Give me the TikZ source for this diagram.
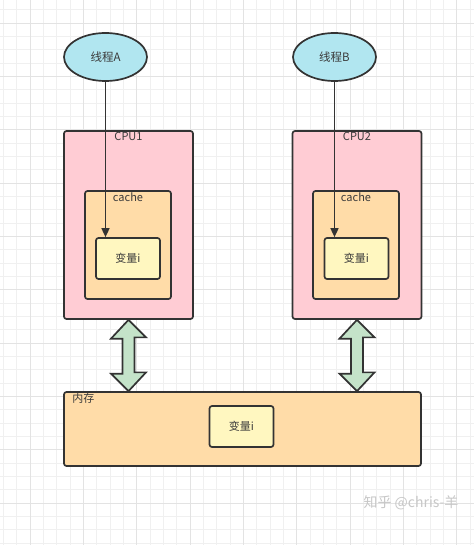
\documentclass[tikz,border=0pt]{standalone}
\usepackage{fontspec}
\setmainfont{Noto Sans CJK SC}
\usetikzlibrary{shapes.geometric, arrows.meta, positioning}
\definecolor{mline}{HTML}{333333}
\definecolor{mtext}{HTML}{3A3A3A}
\definecolor{mcyan}{HTML}{B1E6F0}
\definecolor{mpink}{HTML}{FFCCD4}
\definecolor{morange}{HTML}{FFDCA8}
\definecolor{myellow}{HTML}{FFF7C0}
\definecolor{mgreen}{HTML}{C4E3C9}
\definecolor{mgrid}{HTML}{F0F0F0}
\definecolor{mgridb}{HTML}{E3E3E3}
\tikzstyle{thread} = [ellipse, draw = mline, line width = 1.7pt, fill = mcyan, minimum width = 83pt, minimum height = 48pt, inner sep = 0pt, text = mtext, font = \fontsize{11.5}{13}\selectfont]
\tikzstyle{cpu} = [rectangle, rounded corners = 2.5pt, draw = mline, line width = 1.7pt, fill = mpink, minimum width = 129pt, minimum height = 188pt, inner sep = 0pt]
\tikzstyle{cache} = [rectangle, rounded corners = 2.5pt, draw = mline, line width = 1.7pt, fill = morange, minimum width = 86pt, minimum height = 108pt, inner sep = 0pt]
\tikzstyle{var} = [rectangle, rounded corners = 2.5pt, draw = mline, line width = 1.7pt, fill = myellow, minimum width = 64pt, minimum height = 41pt, inner sep = 0pt, text = mtext, font = \fontsize{11}{13}\selectfont]
\tikzstyle{memory} = [rectangle, rounded corners = 2.5pt, draw = mline, line width = 1.7pt, fill = morange, minimum width = 357pt, minimum height = 74pt, inner sep = 0pt]
\tikzstyle{tag} = [inner sep = 2pt, text = mtext, font = \fontsize{11}{13}\selectfont]
\tikzstyle{flow} = [line width = 1.6pt, draw = mline, -{Triangle[length=9pt, width=8pt]}]
\tikzstyle{bus} = [line width = 1.7pt, draw = mline, fill = mgreen, line join = miter]

\begin{document}
\begin{tikzpicture}[x=1pt, y=-1pt]
\useasboundingbox (0,0) rectangle (474,545);
\fill[white] (0,0) rectangle (474,545);
% background grid
\foreach \i in {0,...,35} \draw[mgrid, line width=0.7pt] ({3.4+13.333*\i},0) -- ++(0,545);
\foreach \i in {0,...,41} \draw[mgrid, line width=0.7pt] (0,{9.7+13.333*\i}) -- ++(474,0);
\foreach \i in {0,...,8} \draw[mgridb, line width=0.7pt] ({30+53.333*\i},0) -- ++(0,545);
\foreach \i in {0,...,10} \draw[mgridb, line width=0.7pt] (0,{23+53.333*\i}) -- ++(474,0);

% processors
\node (cpuA) [cpu] at (128.5,225) {};
\node (cpuB) [cpu] at (357,225) {};
\node (cacheA) [cache] at (128,245) {};
\node (cacheB) [cache] at (356,245) {};
\node (varA) [var] at (128,258.5) {变量i};
\node (varB) [var] at (356.5,258.5) {变量i};
\node [tag, anchor=north] at (cpuA.north) {CPU1};
\node [tag, anchor=north] at (cpuB.north) {CPU2};
\node [tag, anchor=north] at (cacheA.north) {cache};
\node [tag, anchor=north] at (cacheB.north) {cache};

% threads
\node (threadA) [thread] at (105.5,57) {线程A};
\node (threadB) [thread] at (334.5,57) {线程B};
\draw [flow] (threadA.south) -- (threadA.south |- varA.north);
\draw [flow] (threadB.south) -- (threadB.south |- varB.north);

% main memory
\node (mem) [memory] at (242.5,429) {};
\node (varM) [var] at (241.5,426.5) {变量i};
\node [tag, anchor=north west] at ([xshift=7pt]mem.north west) {内存};

% buses
\draw [bus] (cpuA.south) -- ++(17.5,17.5) -- ++(-11.5,0) -- ++(0,35) -- ++(11.5,0) -- (cpuA.south |- mem.north) -- ++(-17.5,-17.5) -- ++(11.5,0) -- ++(0,-35) -- ++(-11.5,0) -- cycle;
\draw [bus] (cpuB.south) -- ++(17.5,17.5) -- ++(-11.5,0) -- ++(0,35) -- ++(11.5,0) -- (cpuB.south |- mem.north) -- ++(-17.5,-17.5) -- ++(11.5,0) -- ++(0,-35) -- ++(-11.5,0) -- cycle;

% watermark
\node [text=black!22, font=\fontsize{14}{16}\selectfont, anchor=east] at (462,503) {知乎 @chris-羊};
\end{tikzpicture}
\end{document}
